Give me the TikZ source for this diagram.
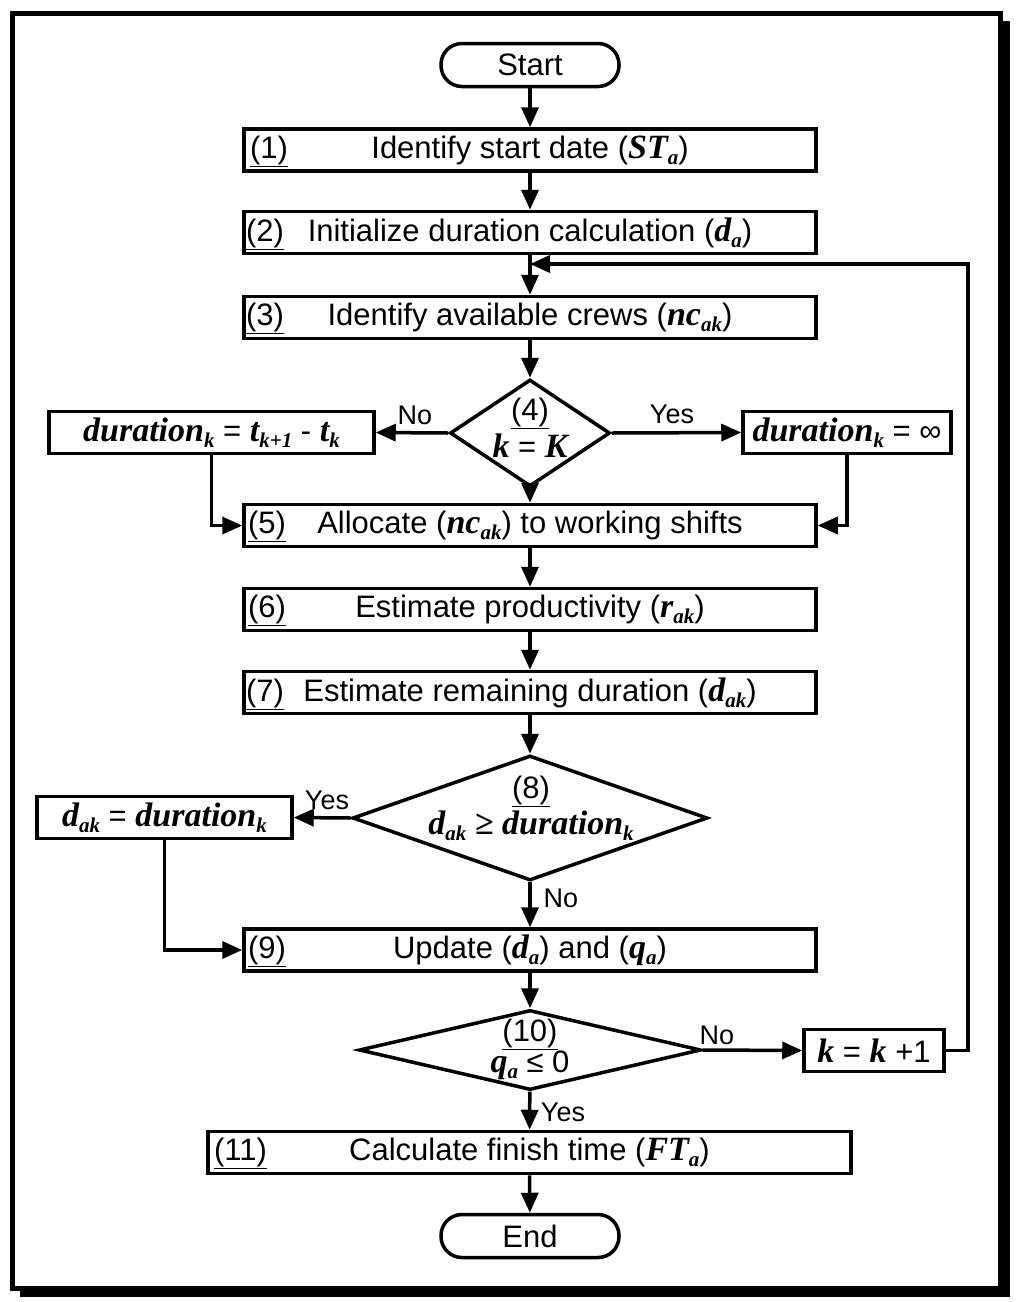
\documentclass[tikz,border=0pt]{standalone}
\usepackage{fontspec}
\setmainfont{Liberation Sans}
\newfontfamily\tms{Liberation Serif}
\usepackage{tikz}
\usetikzlibrary{arrows.meta, positioning, shapes.geometric}

% bold italic variables with subscript
\newcommand\vb[2]{{\tms\bfseries\itshape\fontsize{34}{40}\selectfont #1\raisebox{-6pt}{\fontsize{21}{24}\selectfont #2}}}
\newcommand\vbn[1]{{\tms\bfseries\itshape\fontsize{34}{40}\selectfont #1}}

\begin{document}
\begin{tikzpicture}[
  x=1pt, y=-1pt,
  box/.style  = {draw, line width=3.5pt, minimum width=572pt, minimum height=42pt,
                 inner sep=0pt, font=\fontsize{31}{36}\selectfont},
  sbox/.style = {box, minimum width=#1},
  term/.style = {draw, line width=3.5pt, rounded corners=21pt, minimum width=178pt,
                 minimum height=43pt, inner sep=0pt, font=\fontsize{31}{36}\selectfont},
  dec/.style  = {draw, diamond, line width=3.5pt, inner sep=0pt},
  dtxt/.style = {inner sep=0pt, align=center, font=\fontsize{31}{36}\selectfont},
  num/.style  = {inner sep=0pt, anchor=base west, font=\fontsize{31}{36}\selectfont},
  lbl/.style  = {inner sep=1pt, font=\fontsize{27}{30}\selectfont},
  >={Triangle[length=20pt 0 0, width=17pt 0 0]}, line width=3.5pt
]
  \useasboundingbox (0,0) rectangle (1019,1302);
  % frame with shadow
  \fill (20,21) rectangle (1010,1297);
  \draw[line width=5pt, fill=white] (12.5,13.5) rectangle (1000.5,1288.5);

  \node[term] (start) at (530,65) {Start};
  \node[box]  (b1) at (530,150)   {Identify start date (\vb{ST}{a})};
  \node[box]  (b2) at (530,232.5) {Initialize duration calculation (\vb{d}{a})};
  \node[box]  (b3) at (530,317.5) {Identify available crews (\vb{nc}{ak})};
  \node[dec, minimum width=160pt, minimum height=107pt] (d4) at (530,433) {};
  \node[dtxt] (t4) at (530,428) {\underline{(4)}\\[1pt]\vbn{k} = \vbn{K}};
  \node[sbox=325pt] (dl) at (211.5,432.5) {\vb{duration}{k} = \vb{t}{k+1} - \vb{t}{k}};
  \node[sbox=208pt] (dr) at (847,432.5) {\vb{duration}{k} = ∞};
  \node[box]  (b5) at (530,525.5) {Allocate (\vb{nc}{ak}) to working shifts};
  \node[box]  (b6) at (530,609.5) {Estimate productivity (\vb{r}{ak})};
  \node[box]  (b7) at (530,692.5) {Estimate remaining duration (\vb{d}{ak})};
  \node[dec, minimum width=355pt, minimum height=125pt] (d8) at (530,818) {};
  \node[dtxt] (t8) at (531,808) {\underline{(8)}\\[0pt]\vb{d}{ak} \vbn{≥} \vb{duration}{k}};
  \node[sbox=255pt] (al) at (164.5,817.5) {\vb{d}{ak} = \vb{duration}{k}};
  \node[box]  (b9) at (530,950) {Update (\vb{d}{a}) and (\vb{q}{a})};
  \node[dec, minimum width=342pt, minimum height=80pt] (d10) at (530,1050) {};
  \node[dtxt] (t10) at (530,1049) {\underline{(10)}\\[-5pt]\vb{q}{a} ≤ 0};
  \node[sbox=140pt] (kk) at (874,1050.5) {\vbn{k} = \vbn{k} +1};
  \node[box, minimum width=643pt] (b11) at (529.5,1152.5) {Calculate finish time (\vb{FT}{a})};
  \node[term] (end) at (530,1236) {End};

  % step numbers
  \node[num] (n1)  at ([xshift=6pt]b1.base west)  {\underline{(1)}};
  \node[num] (n2)  at ([xshift=2pt]b2.base west)  {\underline{(2)}};
  \node[num] (n3)  at ([xshift=2pt]b3.base west)  {\underline{(3)}};
  \node[num] (n5)  at ([xshift=4pt]b5.base west)  {\underline{(5)}};
  \node[num] (n6)  at ([xshift=4pt]b6.base west)  {\underline{(6)}};
  \node[num] (n7)  at ([xshift=2pt]b7.base west)  {\underline{(7)}};
  \node[num] (n9)  at ([xshift=4pt]b9.base west)  {\underline{(9)}};
  \node[num] (n11) at ([xshift=6pt]b11.base west) {\underline{(11)}};

  % main flow
  \draw[->] (start) -- (b1);
  \draw[->] (b1) -- (b2);
  \draw[->] (b2) -- (b3);
  \draw[->] (b3) -- (d4);
  \draw[->] (d4) -- (b5);
  \draw[->] (b5) -- (b6);
  \draw[->] (b6) -- (b7);
  \draw[->] (b7) -- (d8);
  \draw[->] (d8) -- (b9);
  \draw[->] (b9) -- (d10);
  \draw[->] (d10) -- (b11);
  \draw[->] (b11) -- (end);

  % branches
  \draw[->] (d4.west) -- (dl.east);
  \draw[->] (d4.east) -- (dr.west);
  \draw[->] (dl.south) |- (b5.west);
  \draw[->] (dr.south) |- (b5.east);
  \draw[->] (d8.west) -- (al.east);
  \draw[->] (al.south) |- (b9.west);
  \draw[->] (d10.east) -- (kk.west);
  \coordinate (back) at (530,264);
  \draw[->] (kk.east) -- ++(22,0) |- (back);

  % branch labels
  \node[lbl] (no4)   at (415,415)  {No};
  \node[lbl] (yes4)  at (672,414)  {Yes};
  \node[lbl] (yes8)  at (327,800)  {Yes};
  \node[lbl] (no8)   at (561,898)  {No};
  \node[lbl] (no10)  at (717,1035) {No};
  \node[lbl] (yes10) at (563,1112) {Yes};
\end{tikzpicture}
\end{document}
